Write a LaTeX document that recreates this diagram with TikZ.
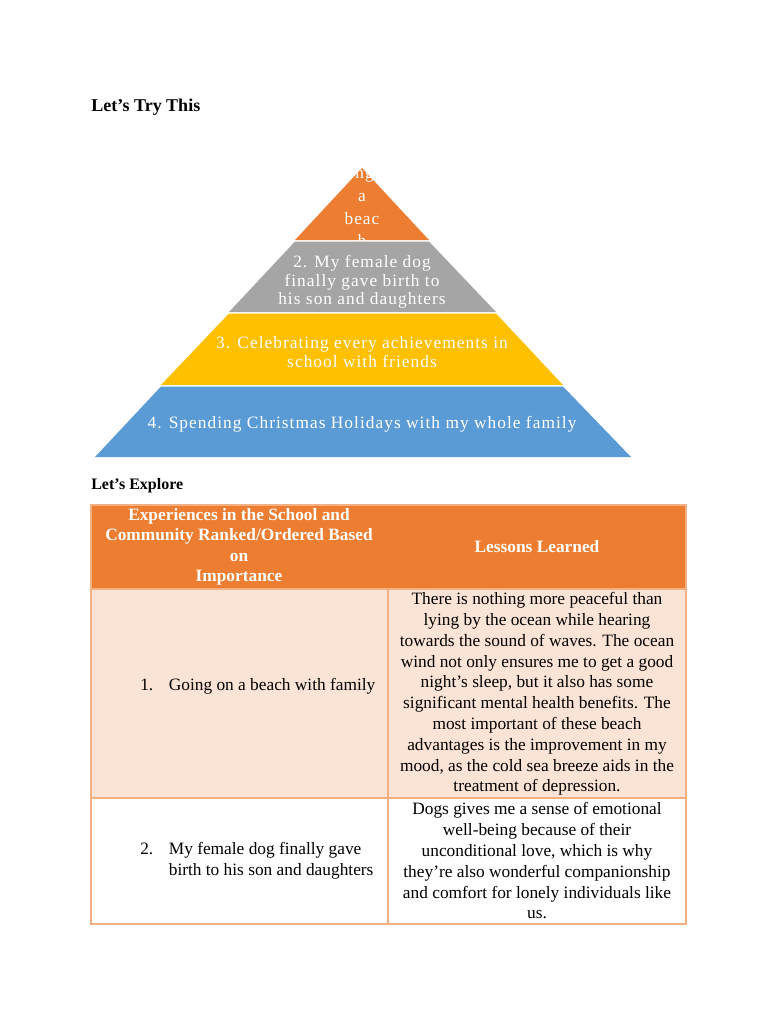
\documentclass[tikz,border=0pt]{standalone}
\usepackage{fontspec}
\setmainfont{Liberation Serif}
\newfontfamily\spaced[LetterSpace=6]{Liberation Serif}
\definecolor{orng}{HTML}{ED7D31}
\definecolor{gry}{HTML}{A5A5A5}
\definecolor{yel}{HTML}{FFC000}
\definecolor{blu}{HTML}{5B9BD5}
\definecolor{peach}{HTML}{FBE4D5}
\definecolor{bord}{HTML}{F4B083}
\begin{document}
\begin{tikzpicture}[x=0.75pt,y=-0.75pt,
  body/.style={font=\fontsize{13}{15.6}\selectfont,inner sep=0pt,align=center},
  pyr/.style={font=\spaced\fontsize{13}{14}\selectfont,text=white,inner sep=0pt,align=center},
  head/.style={font=\bfseries\fontsize{13}{15.3}\selectfont,text=white,inner sep=0pt,align=center},
  cell/.style={draw=bord,line width=0.8pt}]
\useasboundingbox (0,0) rectangle (768,1024);
\node[anchor=base west,font=\bfseries\fontsize{13.5}{16}\selectfont,inner sep=0pt] (t1) at (91,111) {Let’s Try This};
% pyramid
\fill[orng] (362,168) -- (429,240) -- (295,240) -- cycle;
\fill[gry] (295,241.5) -- (429,241.5) -- (496,312) -- (229,312) -- cycle;
\fill[yel] (229,313.5) -- (496,313.5) -- (563,385) -- (161,385) -- cycle;
\fill[blu] (161,386.5) -- (563,386.5) -- (631,457) -- (95,457) -- cycle;
\begin{scope}
\clip (362,168) -- (429,240) -- (295,240) -- cycle;
\node[pyr] (p1) at (362,207) {Going on\\[3pt]a\\[3pt]beac\\[3pt]h};
\end{scope}
\node[pyr] (p2) at (362,282) {2. My female dog\\finally gave birth to\\his son and daughters};
\node[pyr] (p3) at (362,352) {3. Celebrating every achievements in\\school with friends};
\node[pyr] (p4) at (362,424) {4. Spending Christmas Holidays with my whole family};
\node[anchor=base west,font=\bfseries\fontsize{12}{14}\selectfont,inner sep=0pt] (t2) at (91,489) {Let’s Explore};
% table
\fill[orng] (91,505) rectangle (686,589);
\fill[peach] (91,589) rectangle (686,798);
\draw[cell] (91,505) rectangle (686,924);
\draw[cell] (91,589) -- (686,589);
\draw[cell] (91,798) -- (686,798);
\draw[cell] (388,589) -- (388,924);
\node[head] (h1) at (239,547) {Experiences in the School and\\Community Ranked/Ordered Based\\on\\Importance};
\node[head] (h2) at (537,547) {Lessons Learned};
\node[body,anchor=west] (r1) at (140,686) {1.\hspace{0.9em}Going on a beach with family};
\node[body,align=left,anchor=north west] (r2) at (140,842) {2.\hspace{0.9em}My female dog finally gave\\\hphantom{2.\hspace{0.9em}}birth to his son and daughters};
\node[body] (l1) at (537,694) {There is nothing more peaceful than\\lying by the ocean while hearing\\towards the sound of waves. The ocean\\wind not only ensures me to get a good\\night's sleep, but it also has some\\significant mental health benefits. The\\most important of these beach\\advantages is the improvement in my\\mood, as the cold sea breeze aids in the\\treatment of depression.};
\node[body] (l2) at (537,861) {Dogs gives me a sense of emotional\\well-being because of their\\unconditional love, which is why\\they're also wonderful companionship\\and comfort for lonely individuals like\\us.};
\end{tikzpicture}
\end{document}
